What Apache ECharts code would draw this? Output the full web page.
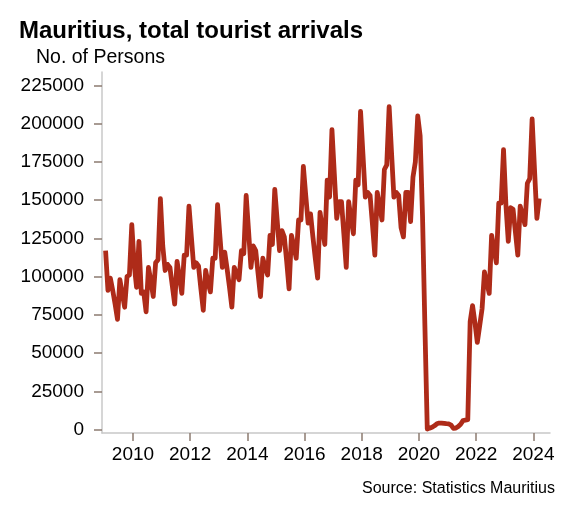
<!DOCTYPE html>
<html>
<head>
<meta charset="utf-8">
<script src="https://cdn.jsdelivr.net/npm/echarts@6/dist/echarts.min.js"></script>
<style>
  html, body { margin: 0; padding: 0; background: #fff; }
  #chart { width: 585px; height: 519px; }
</style>
</head>
<body>
<div id="chart"></div>
<script>
// monthly tourist arrivals, Jan 2009 .. Mar 2024 (persons)
var startYear = 2009;
var arrivals = [
  117000, 91000, 99000, 91000, 82000, 72000, 98000, 89000, 80000, 100000, 101000, 134000,   // 2009
  108000, 93000, 123000, 89000, 90000, 77000, 106000, 97000, 87000, 109000, 111000, 151000,  // 2010
  120000, 104000, 108000, 106000, 94000, 82000, 110000, 100000, 89000, 114000, 114000, 146000, // 2011
  126000, 106000, 109000, 107000, 92000, 78000, 104000, 96000, 90000, 112000, 112000, 147000, // 2012
  126000, 106000, 116000, 105000, 93000, 80000, 106000, 102000, 98000, 117000, 115000, 153000, // 2013
  130000, 106000, 120000, 117000, 102000, 87000, 112000, 106000, 101000, 127000, 121000, 157000, // 2014
  137000, 117000, 130000, 126000, 110000, 92000, 127000, 120000, 112000, 137000, 137000, 172000, // 2015
  153000, 135000, 141000, 126000, 112000, 99000, 142000, 131000, 121000, 163000, 152000, 196000, // 2016
  167000, 138000, 149000, 149000, 128000, 106000, 149000, 138000, 128000, 163000, 160000, 208000, // 2017
  180000, 152000, 155000, 153000, 134000, 114000, 155000, 146000, 137000, 170000, 173000, 211000, // 2018
  181000, 152000, 155000, 153000, 132000, 126000, 155000, 155000, 136000, 165000, 175000, 205000, // 2019
  192000, 140000, 68000, 400, 1000, 1500, 2500, 3800, 4300, 4300, 4100, 3900,               // 2020
  3800, 3000, 800, 1000, 2000, 3500, 5900, 6200, 6500, 70600, 81000, 70000,                  // 2021
  57000, 68000, 79000, 103000, 96000, 89000, 127000, 118000, 109000, 148000, 148000, 183000, // 2022
  147000, 123000, 145000, 144000, 129000, 114000, 146000, 140000, 134000, 161000, 164000, 203000, // 2023
  170000, 138000, 151000                                                                     // 2024
];
var yearTicks = [2010, 2012, 2014, 2016, 2018, 2020, 2022, 2024];
var valueTicks = [0, 25000, 50000, 75000, 100000, 125000, 150000, 175000, 200000, 225000];

var font = "'Liberation Sans', Arial, sans-serif";
var points = arrivals.map(function (v, i) {
  return [startYear + (i + 0.5) / 12, v];
});

var chart = echarts.init(document.getElementById('chart'));
chart.setOption({
  backgroundColor: '#fff',
  animation: false,
  title: [{
    text: 'Mauritius, total tourist arrivals',
    left: 19, top: 19, padding: 0,
    textStyle: { fontFamily: font, fontSize: 24, fontWeight: 'bold', color: '#000' }
  }, {
    text: 'No. of Persons',
    left: 36, top: 48, padding: 0,
    textStyle: { fontFamily: font, fontSize: 19.5, fontWeight: 'normal', color: '#000' }
  }, {
    text: 'Source: Statistics Mauritius',
    right: 30, top: 481, padding: 0,
    textStyle: { fontFamily: font, fontSize: 16, fontWeight: 'normal', color: '#000' }
  }],
  grid: { left: 102, right: 35, top: 72, bottom: 86, containLabel: false },
  xAxis: {
    type: 'value',
    min: 2008.9165,
    max: 2024.5837,
    splitLine: { show: false },
    axisLine: { show: true, onZero: false, lineStyle: { color: '#c8c8c8', width: 1.5 } },
    axisTick: { show: true, length: 8, customValues: yearTicks, lineStyle: { color: '#8c7b70', width: 1.5 } },
    axisLabel: {
      customValues: yearTicks, margin: 12,
      fontFamily: font, fontSize: 19, color: '#000',
      formatter: function (v) { return String(v); }
    }
  },
  yAxis: {
    type: 'value',
    min: -2200,
    max: 233700,
    splitLine: { show: false },
    axisLine: { show: true, lineStyle: { color: '#c8c8c8', width: 1.5 } },
    axisTick: { show: true, length: 8, customValues: valueTicks, lineStyle: { color: '#8c7b70', width: 1.5 } },
    axisLabel: {
      customValues: valueTicks, margin: 18,
      fontFamily: font, fontSize: 19, color: '#000',
      formatter: function (v) { return String(v); }
    }
  },
  series: [{
    type: 'line',
    data: points,
    showSymbol: false,
    symbol: 'none',
    lineStyle: { color: '#ae2b19', width: 4.8, join: 'round' },
    itemStyle: { color: '#ae2b19' }
  }]
});
</script>
</body>
</html>
